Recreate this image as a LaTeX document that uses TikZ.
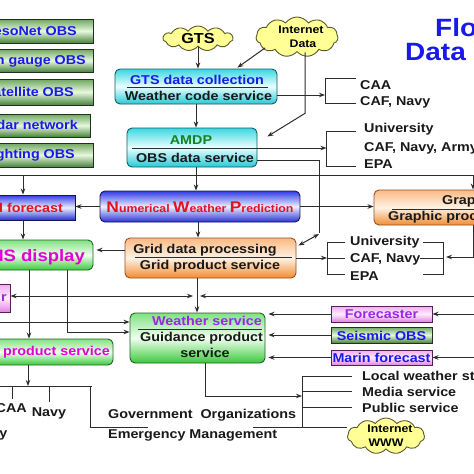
\documentclass[tikz,border=0pt]{standalone}
\usepackage{fontspec}
\setmainfont{Liberation Sans}[FakeStretch=1.12]
\usetikzlibrary{shapes.symbols,arrows.meta,calc}
\definecolor{tblue}{RGB}{25,25,235}
\definecolor{tred}{RGB}{225,20,30}
\definecolor{tmag}{RGB}{225,0,210}
\definecolor{tpur}{RGB}{150,40,230}
\definecolor{tgrn}{RGB}{20,130,30}
\definecolor{tblk}{RGB}{25,25,25}
\definecolor{lncol}{RGB}{45,45,45}
\definecolor{obsT}{RGB}{110,165,95}\definecolor{obsM}{RGB}{232,248,222}\definecolor{obsB}{RGB}{70,130,60}\definecolor{obsD}{RGB}{30,50,30}
\definecolor{cyT}{RGB}{60,215,225}\definecolor{cyM}{RGB}{235,255,255}\definecolor{cyB}{RGB}{40,200,215}\definecolor{cyD}{RGB}{20,90,100}
\definecolor{blT}{RGB}{50,60,230}\definecolor{blM}{RGB}{238,238,255}\definecolor{blB}{RGB}{40,50,210}\definecolor{blD}{RGB}{20,20,90}
\definecolor{orT}{RGB}{250,185,130}\definecolor{orM}{RGB}{255,242,228}\definecolor{orB}{RGB}{240,140,50}\definecolor{orD}{RGB}{150,80,30}
\definecolor{grT}{RGB}{130,225,130}\definecolor{grM}{RGB}{240,255,240}\definecolor{grB}{RGB}{60,200,60}\definecolor{grD}{RGB}{30,100,30}
\definecolor{viT}{RGB}{240,170,240}\definecolor{viM}{RGB}{255,235,255}\definecolor{viB}{RGB}{225,130,225}\definecolor{viD}{RGB}{90,30,90}
\definecolor{cloudy}{RGB}{255,255,150}\definecolor{cloudD}{RGB}{90,90,40}
\newcommand\mytf{\fontsize{12.8}{14}\selectfont\bfseries}
\newcommand\initcap[1]{{\fontsize{15.5}{15}\selectfont #1}}
\tikzset{
  bx/.style={inner sep=0pt, line width=0.9pt},
  obsbox/.style={bx, draw=obsD, top color=obsT, bottom color=obsB, middle color=obsM},
  cybox/.style={bx, draw=cyD, rounded corners=5pt, top color=cyT, bottom color=cyB, middle color=cyM},
  blbox/.style={bx, draw=blD, top color=blT, bottom color=blB, middle color=blM},
  orbox/.style={bx, draw=orD, rounded corners=5pt, top color=orT, bottom color=orB, middle color=orM},
  grbox/.style={bx, draw=grD, rounded corners=5pt, top color=grT, bottom color=grB, middle color=grM},
  vibox/.style={bx, draw=viD, top color=viT, bottom color=viB, middle color=viM},
  cloudbox/.style={cloud, cloud puffs=11, cloud puff arc=110, draw=cloudD, fill=cloudy, line width=0.9pt, inner sep=0pt, font=\mytf, align=center},
  txt/.style={inner sep=0pt, font=\mytf},
  ln/.style={draw=lncol, line width=1pt},
  arr/.style={ln, -{Stealth[length=6pt,width=4.5pt]}},
  darr/.style={ln, {Stealth[length=6pt,width=4.5pt]}-{Stealth[length=6pt,width=4.5pt]}},
}
\begin{document}
\begin{tikzpicture}[x=1pt,y=-1pt]
\useasboundingbox (0,0) rectangle (474,474);
\clip (0,0) rectangle (474,474);
\fill[white] (0,0) rectangle (474,474);

% ---------- boxes ----------
\node[obsbox, minimum width=153pt, minimum height=24pt] (meso) at (16.5,31) {};
\node[obsbox, minimum width=153pt, minimum height=23pt] (rain) at (16.5,60.5) {};
\node[obsbox, minimum width=153pt, minimum height=26pt] (sat) at (16.5,92) {};
\node[obsbox, minimum width=150pt, minimum height=23pt] (radar) at (15,125.5) {};
\node[obsbox, minimum width=153pt, minimum height=24pt] (light) at (16.5,155) {};
\node[txt, anchor=east, text=tblue] (tmeso) at (77,31) {MesoNet OBS};
\node[txt, anchor=east, text=tblue] (train) at (86,61) {Rain gauge OBS};
\node[txt, anchor=east, text=tblue] (tsat) at (74,92) {Satellite OBS};
\node[txt, anchor=east, text=tblue] (tradar) at (78,125) {Radar network};
\node[txt, anchor=east, text=tblue] (tlight) at (75,155) {Lighting OBS};

\node[cloudbox, minimum width=70pt, minimum height=25pt, aspect=2.8] (gtsc) at (198,38.5) {\fontsize{14.5}{15}\selectfont GTS};
\node[cloudbox, minimum width=82pt, minimum height=40pt, aspect=2] (inet) at (297,37) {};
\node[txt, font=\fontsize{11}{12}\selectfont\bfseries] (tinet1) at (301,30) {Internet};
\node[txt, font=\fontsize{11}{12}\selectfont\bfseries] (tinet2) at (303,44) {Data};

\node[cybox, minimum width=162pt, minimum height=35pt] (gts) at (196,86.5) {};
\node[txt, text=tblue] (tgts1) at (197,79.5) {GTS data collection};
\node[txt, text=tblk] (tgts2) at (198.5,95.5) {Weather code service};
\draw[ln] (127,87.5) -- (268,87.5);

\node[cybox, minimum width=130pt, minimum height=39pt] (amdp) at (192,147.5) {};
\node[txt, text=tgrn] (tamdp1) at (191,140) {AMDP};
\node[txt, text=tblk] (tamdp2) at (195,158) {OBS data service};

\node[txt, anchor=west, text=tblue, font=\fontsize{25}{26}\selectfont\bfseries] (title1) at (435,28) {Flo};
\node[txt, anchor=west, text=tblue, font=\fontsize{25}{26}\selectfont\bfseries] (title2) at (405,52) {Data};

\node[txt, anchor=west, text=tblk] (caa1) at (360,85) {CAA};
\node[txt, anchor=west, text=tblk] (caf1) at (360,102) {CAF, Navy};
\node[txt, anchor=west, text=tblk] (uni1) at (364,129.5) {University};
\node[txt, anchor=west, text=tblk] (caf2) at (364,148) {CAF, Navy, Army};
\node[txt, anchor=west, text=tblk] (epa1) at (364,164.5) {EPA};

\node[blbox, rounded corners=5pt, minimum width=200pt, minimum height=31pt] (nwp) at (200,206.5) {};
\node[txt, text=tred, font=\fontsize{11}{12}\selectfont\bfseries] (tnwp) at (200,207) {\initcap{N}umerical \initcap{W}eather \initcap{P}rediction};
\node[blbox, minimum width=135pt, minimum height=25pt] (locf) at (7.5,207.5) {};
\node[txt, anchor=east, text=tred] (tlocf) at (63,208) {l forecast};

\node[orbox, minimum width=186pt, minimum height=35pt] (graphic) at (467,207.5) {};
\node[txt, anchor=west, text=tblk] (tgra1) at (442,201) {Grap};
\node[txt, anchor=west, text=tblk] (tgra2) at (388,217) {Graphic proc};
\draw[ln] (392,209) -- (480,209);

\node[grbox, minimum width=153pt, minimum height=30pt] (gis) at (16.5,255) {};
\node[txt, anchor=east, text=tmag, font=\fontsize{16.5}{17}\selectfont\bfseries] (tgis) at (85,257) {IS display};

\node[orbox, minimum width=171pt, minimum height=40pt] (grid) at (210.5,258) {};
\node[txt, text=tblk] (tgrid1) at (205,250) {Grid data processing};
\node[txt, text=tblk] (tgrid2) at (210,266) {Grid product service};
\draw[ln] (135,257.5) -- (292,257.5);

\node[txt, anchor=west, text=tblk] (uni3) at (350,242) {University};
\node[txt, anchor=west, text=tblk] (caf3) at (350,259) {CAF, Navy};
\node[txt, anchor=west, text=tblk] (epa3) at (350,276) {EPA};

\node[vibox, minimum width=70pt, minimum height=28pt] (purp) at (-25,298) {};
\node[txt, anchor=east, text=tpur] (tpurp) at (7,298) {r};

\node[grbox, minimum width=173pt, minimum height=26pt] (prod) at (26.5,352) {};
\node[txt, anchor=east, text=tmag] (tprod) at (110,352) {product service};

\node[grbox, minimum width=135pt, minimum height=50pt] (wserv) at (197.5,338) {};
\node[txt, text=tpur] (tws1) at (207,321) {Weather service};
\node[txt, text=tblk] (tws2) at (201.5,338) {Guidance product};
\node[txt, text=tblk] (tws3) at (205,353) {service};
\draw[ln] (138,329.5) -- (262,329.5);

\node[vibox, minimum width=101pt, minimum height=16pt] (forec) at (381.5,314) {};
\node[txt, text=tpur] (tforec) at (381.5,314.5) {Forecaster};
\node[obsbox, minimum width=101pt, minimum height=16pt] (seis) at (381.5,335) {};
\node[txt, text=tblue] (tseis) at (381.5,335.5) {Seismic OBS};
\node[vibox, minimum width=101pt, minimum height=15pt] (marin) at (381.5,357.5) {};
\node[txt, text=tblue] (tmarin) at (381.5,358) {Marin forecast};

\node[txt, anchor=west, text=tblk] (loc4) at (362,376) {Local weather station};
\node[txt, anchor=west, text=tblk] (med4) at (362,391.5) {Media service};
\node[txt, anchor=west, text=tblk] (pub4) at (362,407.5) {Public service};
\node[cloudbox, minimum width=77pt, minimum height=36pt, aspect=2.1] (inetw) at (386,436) {};
\node[txt, font=\fontsize{11}{12}\selectfont\bfseries] (tinw1) at (390,429) {Internet};
\node[txt, font=\fontsize{11}{12}\selectfont\bfseries] (tinw2) at (386,443) {WWW};

\node[txt, anchor=east, text=tblk] (caa5) at (27,408) {CAA};
\node[txt, text=tblk] (navy5) at (49,413) {Navy};
\node[txt, anchor=east, text=tblk] (army5) at (7.5,434) {Army};
\node[txt, anchor=west, text=tblk] (gov) at (108,415) {Government\ \ Organizations};
\node[txt, anchor=west, text=tblk] (emg) at (108,435) {Emergency Management};

% ---------- connectors ----------
\draw[arr] (gtsc.south) -- (gtsc.south |- gts.north);
\draw[arr] ($(inet.center)+(-32,11)$) -- ($(gts.north east)+(-40,-1)$);
\draw[arr] (gts.south) -- (gts.south |- amdp.north);
\coordinate (b1) at (325,95);
\draw[arr] (gts.east |- b1) -- (b1);
\draw[ln] (356,78) -- (325,78) -- (325,103) -- (356,103);
\draw[arr] ($(inet.south)+(8,0)$) -- ++(0,61) -- ($(amdp.east)+(10,-11)$);
\draw[arr] ($(amdp.west)+(5,0.5)$) -- ($(amdp.east)+(69,0.5)$);
\draw[ln] (356,131) -- (326,131) -- (326,166) -- (356,166);
\draw[ln] ($(amdp.east)+(0,12.5)$) -- (319,160) -- (319,233);
\draw[darr] (319,234) -- ($(grid.north east)+(2,8)$);
\draw[arr] ($(amdp.south)+(4,0)$) -- ($(nwp.north)+(-4,0)$);

\coordinate (busL) at (-5,175);
\coordinate (busR) at (473,175);
\coordinate (busA) at (23,175);
\draw[ln] (busL) -- (busR);
\draw[arr] (busR) -- (busR |- graphic.north);
\draw[arr] (busA) -- (busA |- locf.north);
\draw[arr] (nwp.west) -- (nwp.west -| locf.east);
\draw[arr] (busA |- locf.south) -- (busA |- gis.north);
\draw[arr] (nwp.east) -- (nwp.east -| graphic.west);
\draw[arr] ($(nwp.south)+(-2,0)$) -- ($(grid.north)+(-12.5,0)$);
\draw[arr] ($(grid.west)+(0,-8)$) -- ($(gis.east)+(3,-5)$);

\draw[arr] (grid.east) -- (327,258);
\draw[ln] (345,242) -- (327,242) -- (327,274) -- (345,274);
\draw[ln] (327,258) -- (345,258);
\draw[ln] (423,242) -- (443,242) -- (443,274) -- (423,274);
\draw[ln] (420,258) -- (443,258);
\draw[arr] (graphic.south -| busR) -- (473,257) -- (446,257);

\draw[arr] ($(grid.south)+(-13.5,0)$) -- ($(wserv.north)+(-0.5,0)$);
\draw[arr] (480,296) -- (200,296);
\draw[darr] (purp.east |- 0,296) -- (193,296);
\draw[arr] (-5,322) -- (wserv.west |- 0,322);
\draw[arr] (gis.south -| 29,0) -- (prod.north -| 29,0);
\draw[arr] (gis.south -| 67,0) -- (67,332) -- (wserv.west |- 0,332);

\draw[arr] (forec.west) -- ($(forec.west -| wserv.east)+(3,0)$);
\draw[arr] (seis.west) -- ($(seis.west -| wserv.east)+(3,0)$);
\draw[arr] (marin.west) -- ($(marin.west -| wserv.east)+(3,0)$);
\draw[arr] (480,314) -- (forec.east);
\draw[arr] (480,357.5) -- (marin.east);

\draw[arr] ($(wserv.south)+(7.5,0)$) -- (205,396) -- (302,396);
\draw[ln] (352,376) -- (302,376) -- (302,427);
\draw[ln] (302,391) -- (352,391);
\draw[ln] (302,407) -- (352,407);
\draw[ln] (253,427) -- (inetw.west |- 0,427);

\draw[arr] (prod.south -| 28,0) -- (28,386);
\draw[ln] (-5,386) -- (92,386);
\draw[ln] (12,386) -- (12,399);
\draw[ln] (49,386) -- (49,402);
\draw[ln] (90,386) -- (90,427) -- (148,427);
\end{tikzpicture}
\end{document}
